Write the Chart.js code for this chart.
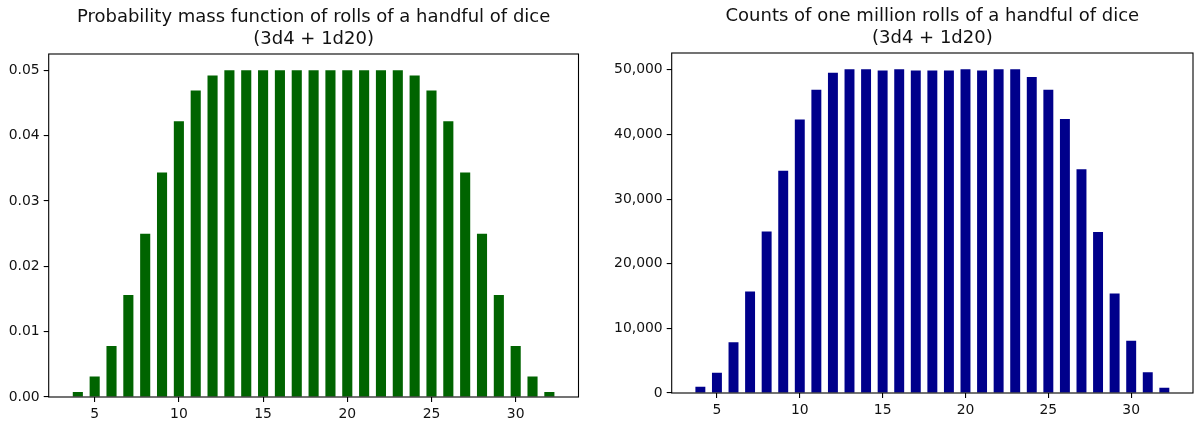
<!DOCTYPE html>
<html>
<head>
<meta charset="utf-8">
<script src="https://cdn.jsdelivr.net/npm/chart.js@4/dist/chart.umd.min.js"></script>
<style>
  html, body { margin: 0; padding: 0; background: #fff; }
  #wrap { position: relative; width: 1200px; height: 424px; overflow: hidden; }
  canvas { position: absolute; top: 0; }
</style>
</head>
<body>
<div id="wrap">
  <canvas id="c1" width="600" height="424" style="left:0px"></canvas>
  <canvas id="c2" width="600" height="424" style="left:600px"></canvas>
</div>
<script>
// ---- data ----
const rollSums = [4,5,6,7,8,9,10,11,12,13,14,15,16,17,18,19,20,21,22,23,24,25,26,27,28,29,30,31,32];
const pmfValues = [0.00078,0.003125,0.0078,0.0156,0.025,0.034375,0.0422,0.0469,0.0492,
  0.05,0.05,0.05,0.05,0.05,0.05,0.05,0.05,0.05,0.05,0.05,
  0.0492,0.0469,0.0422,0.034375,0.025,0.0156,0.0078,0.003125,0.00078];
const rollCounts = [950,3150,7850,15700,25000,34400,42300,46900,49550,
  50100,50100,49880,50100,49880,49880,49880,50100,49880,50100,50100,
  48900,46900,42400,34600,24900,15400,8100,3200,820];
const xTickValues = [5,10,15,20,25,30];
const pmfTickValues = [0,0.01,0.02,0.03,0.04,0.05];
const countTickValues = [0,10000,20000,30000,40000,50000];
const titleLeft = ['Probability mass function of rolls of a handful of dice', '(3d4 + 1d20)'];
const titleRight = ['Counts of one million rolls of a handful of dice', '(3d4 + 1d20)'];

const FONT = "'DejaVu Sans', sans-serif";

const boxPlugin = {
  id: 'box',
  afterDraw(chart, args, opts) {
    const a = chart.chartArea, ctx = chart.ctx;
    ctx.save();
    ctx.strokeStyle = '#000';
    ctx.lineWidth = 1.1;
    ctx.strokeRect(a.left, a.top, a.right - a.left, a.bottom - a.top);
    // title
    ctx.fillStyle = '#111';
    ctx.font = "18px " + FONT;
    ctx.textAlign = 'center';
    ctx.textBaseline = 'alphabetic';
    const cx = (a.left + a.right) / 2;
    const lines = opts.lines;
    const base = a.top - 10;
    for (let i = 0; i < lines.length; i++) {
      ctx.fillText(lines[i], cx, base - (lines.length - 1 - i) * 22.5);
    }
    ctx.restore();
  }
};

function makeChart(id, xs, ys, color, yTicks, yFmt, yWidth, xHeight, pad, titleLines) {
  const maxY = Math.max(...ys) * 1.05;
  return new Chart(document.getElementById(id), {
    type: 'bar',
    data: {
      datasets: [{
        data: xs.map((x, i) => ({ x: x, y: ys[i] })),
        backgroundColor: color,
        borderWidth: 0,
        categoryPercentage: 1.0,
        barPercentage: 0.6
      }]
    },
    options: {
      responsive: false,
      animation: false,
      devicePixelRatio: 1,
      layout: { padding: pad },
      plugins: {
        legend: { display: false },
        tooltip: { enabled: false },
        title: { display: false },
        box: { lines: titleLines }
      },
      scales: {
        x: {
          type: 'linear',
          offset: false,
          min: 2.27,
          max: 33.73,
          afterBuildTicks: (ax) => { ax.ticks = xTickValues.map(v => ({ value: v })); },
          afterFit: (ax) => { ax.height = xHeight; },
          border: { display: false },
          grid: { display: true, offset: false, drawOnChartArea: false, drawTicks: true, tickLength: 5, tickColor: '#000', lineWidth: 1.1 },
          ticks: { color: '#111', font: { family: FONT, size: 13.9 }, padding: 4, maxRotation: 0, autoSkip: false,
                   callback: (v) => String(v) }
        },
        y: {
          min: 0,
          max: maxY,
          afterBuildTicks: (ax) => { ax.ticks = yTicks.map(v => ({ value: v })); },
          afterFit: (ax) => { ax.width = yWidth; },
          border: { display: false },
          grid: { display: true, drawOnChartArea: false, drawTicks: true, tickLength: 5, tickColor: '#000', lineWidth: 1.1 },
          ticks: { color: '#111', font: { family: FONT, size: 13.9 }, padding: 4, autoSkip: false,
                   callback: yFmt }
        }
      }
    },
    plugins: [boxPlugin]
  });
}

makeChart('c1', rollSums, pmfValues, '#006400', pmfTickValues,
  (v) => Number(v).toFixed(2), 48.7, 27, { left: 0, right: 21.5, top: 54, bottom: 0 }, titleLeft);
makeChart('c2', rollSums, rollCounts, '#00008B', countTickValues,
  (v) => Number(v).toLocaleString('en-US'), 71.7, 31, { left: 0, right: 7, top: 53, bottom: 0 }, titleRight);
</script>
</body>
</html>
